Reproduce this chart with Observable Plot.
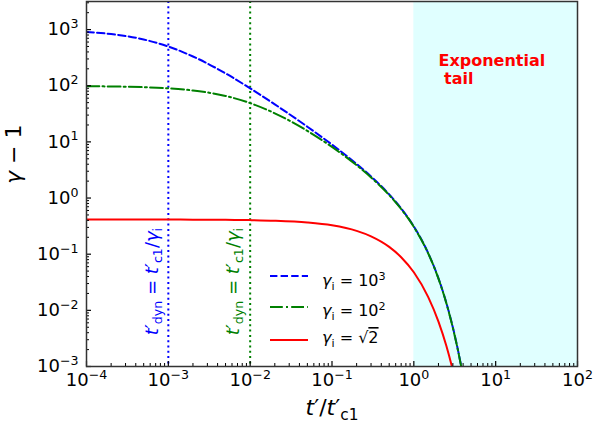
<!DOCTYPE html>
<html><head><meta charset="utf-8">
<script src="https://cdn.jsdelivr.net/npm/d3@7"></script>
<script src="https://cdn.jsdelivr.net/npm/@observablehq/plot@0.6"></script>
<style>
body{margin:0;background:#fff;}
svg{font-family:"DejaVu Sans",sans-serif;}
</style>
</head><body><div id="chart"></div>
<script>
// sampled times t'/t'_c1
const tValues = [1e-4, 2e-4, 5e-4, 1e-3, 2e-3, 5e-3, 1e-2, 2e-2, 5e-2, 0.1, 0.2, 0.3, 0.5, 0.7, 1, 1.5, 2, 2.5, 3, 3.5, 4];
// gamma - 1 for each initial Lorentz factor
const gammaHigh = [908, 832, 666, 499, 332, 166, 89.9, 46.6, 18.6, 8.94, 4.04, 2.42, 1.16, 0.653, 0.312, 0.104, 0.0372, 0.0135, 0.00496, 0.00182, 0.00067];
const gammaMid  = [98.0, 97.0, 94.2, 89.9, 82.3, 65.7, 49.0, 32.3, 15.7, 8.13, 3.83, 2.33, 1.13, 0.638, 0.306, 0.103, 0.0366, 0.0133, 0.00487, 0.00179, 0.00066];
const gammaLow  = [0.4141, 0.4140, 0.4138, 0.4133, 0.4123, 0.4093, 0.4044, 0.3948, 0.3676, 0.327, 0.260, 0.208, 0.135, 0.0884, 0.0476, 0.0172, 0.0063, 0.00232, 0.00085, 0.00031, 0.000115];
const legendLabels = ["*{γ}_{i} = 10^{3}", "*{γ}_{i} = 10^{2}", "*{γ}_{i} = √~{2}"];
const dynTimes = [1e-3, 1e-2];
const dynLabel = "*{t}′_{dyn} = *{t}′_{c1}/*{γ}_{i}";
const tailRange = [1, 100];
const tailLabel = "Exponential\n\u00a0tail";
const xTicks = [1e-4, 1e-3, 1e-2, 1e-1, 1, 10, 100];
const xTickLabels = ["10^{−4}", "10^{−3}", "10^{−2}", "10^{−1}", "10^{0}", "10^{1}", "10^{2}"];
const yTicks = [1e-3, 1e-2, 1e-1, 1, 10, 100, 1000];
const yTickLabels = ["10^{−3}", "10^{−2}", "10^{−1}", "10^{0}", "10^{1}", "10^{2}", "10^{3}"];
const xLabel = "*{t}′/*{t}′_{c1}";
const yLabel = "*{γ} − 1";

const minorOf = (decades) => decades.flatMap(p => [2,3,4,5,6,7,8,9].map(m => m * Math.pow(10, p)));
const xMinor = minorOf([-4,-3,-2,-1,0,1]);
const yMinor = minorOf([-3,-2,-1,0,1,2]).concat([2000, 3000]);

const BLUE = "#0000ff", GREEN = "#008000", RED = "#ff0000";
const dashBlue = "7.4,3.2", dashGreen = "12.8,3.2,2,3.2", dotted = "2,3.3";

const svg = Plot.plot({
  width: 593, height: 425,
  marginLeft: 86, marginRight: 16, marginTop: 1, marginBottom: 59,
  x: {type: "log", domain: [1e-4, 1e2]},
  y: {type: "log", domain: [1e-3, Math.pow(10, 3.5)]},
  style: {fontFamily: "DejaVu Sans", background: "white", color: "black"},
  marks: [
    Plot.rect([tailRange], {x1: d => d[0], x2: d => d[1], fill: "#e0ffff"}),
    Plot.ruleX([dynTimes[0]], {x: d => d, stroke: BLUE, strokeWidth: 2, strokeDasharray: dotted}),
    Plot.ruleX([dynTimes[1]], {x: d => d, stroke: GREEN, strokeWidth: 2, strokeDasharray: dotted}),
    Plot.line(tValues, {x: t => t, y: (t, i) => gammaHigh[i], stroke: BLUE, strokeWidth: 2, strokeDasharray: dashBlue, curve: "monotone-x", clip: true}),
    Plot.line(tValues, {x: t => t, y: (t, i) => gammaMid[i], stroke: GREEN, strokeWidth: 2, strokeDasharray: dashGreen, curve: "monotone-x", clip: true}),
    Plot.line(tValues, {x: t => t, y: (t, i) => gammaLow[i], stroke: RED, strokeWidth: 2, curve: "monotone-x", clip: true}),
    Plot.text([dynTimes[0]], {x: d => d, y: () => 0.0325, text: () => dynLabel, rotate: -90, dx: -16, fontSize: 18, fill: BLUE}),
    Plot.text([dynTimes[1]], {x: d => d, y: () => 0.0325, text: () => dynLabel, rotate: -90, dx: -17, fontSize: 18, fill: GREEN}),
    Plot.text([tailLabel], {x: () => 2.0, y: () => 374, text: d => d, fill: RED, fontWeight: "bold", fontSize: 16, textAnchor: "start", lineAnchor: "top", lineHeight: 1.12}),
    // ticks (inward)
    Plot.axisX(xTicks, {anchor: "bottom", tickSize: -5, fill: "none", label: null, strokeWidth: 1.2}),
    Plot.axisX(xMinor, {anchor: "bottom", tickSize: -3, fill: "none", label: null, strokeWidth: 1}),
    Plot.axisY(yTicks, {anchor: "left", tickSize: -5, fill: "none", label: null, strokeWidth: 1.2}),
    Plot.axisY(yMinor, {anchor: "left", tickSize: -3, fill: "none", label: null, strokeWidth: 1}),
    // tick labels
    Plot.axisX(xTicks, {anchor: "bottom", tickSize: 0, tickPadding: 7, fontSize: 18, label: null, tickFormat: d => xTickLabels[xTicks.indexOf(d)]}),
    Plot.axisY(yTicks, {anchor: "left", tickSize: 0, tickPadding: 8, fontSize: 18, label: null, tickFormat: d => yTickLabels[yTicks.indexOf(d)]}),
    // axis titles
    Plot.text([yLabel], {frameAnchor: "left", text: d => d, rotate: -90, dx: -73, fontSize: 22}),
    Plot.text([xLabel], {frameAnchor: "bottom", text: d => d, dy: 33, lineAnchor: "top", fontSize: 22}),
    Plot.frame({stroke: "#333", strokeWidth: 1.5})
  ]
});
document.getElementById("chart").appendChild(svg);

function rich(el, str, size) {
  const sel = d3.select(el);
  sel.text(null);
  const re = /([\^_*~])\{([^}]*)\}|([^\^_*~]+)/g;
  let m, cur = 0;
  while ((m = re.exec(str))) {
    const kind = m[1] || "";
    const content = m[1] ? m[2] : m[3];
    let target = 0, fs = null;
    if (kind === "^") { target = -0.4 * size; fs = 0.7 * size; }
    else if (kind === "_") { target = 0.22 * size; fs = 0.7 * size; }
    const ts = sel.append("tspan").text(content);
    if (target !== cur) ts.attr("dy", target - cur);
    cur = target;
    if (fs) ts.attr("font-size", fs);
    if (kind === "*") ts.attr("font-style", "italic");
    if (kind === "~") ts.style("text-decoration", "overline");
  }
}

svg.querySelectorAll("text").forEach(el => {
  const s = el.textContent;
  if (/[\^_*~]\{/.test(s)) {
    const size = parseFloat(getComputedStyle(el).fontSize);
    rich(el, s, size);
  }
});

// legend
const lg = d3.select(svg).append("g").attr("text-anchor", "start");
const legendStyles = [[BLUE, dashBlue], [GREEN, dashGreen], [RED, null]];
const lineY = [276, 307, 340], baseY = [286, 316, 343];
legendLabels.forEach((lab, i) => {
  const ln = lg.append("line").attr("x1", 270).attr("x2", 308).attr("y1", lineY[i]).attr("y2", lineY[i])
    .attr("stroke", legendStyles[i][0]).attr("stroke-width", 2);
  if (legendStyles[i][1]) ln.attr("stroke-dasharray", legendStyles[i][1]);
  const t = lg.append("text").attr("x", 322).attr("y", baseY[i]).attr("font-size", 16).attr("fill", "black").attr("text-anchor", "start");
  rich(t.node(), lab, 16);
});
</script>
</body></html>
